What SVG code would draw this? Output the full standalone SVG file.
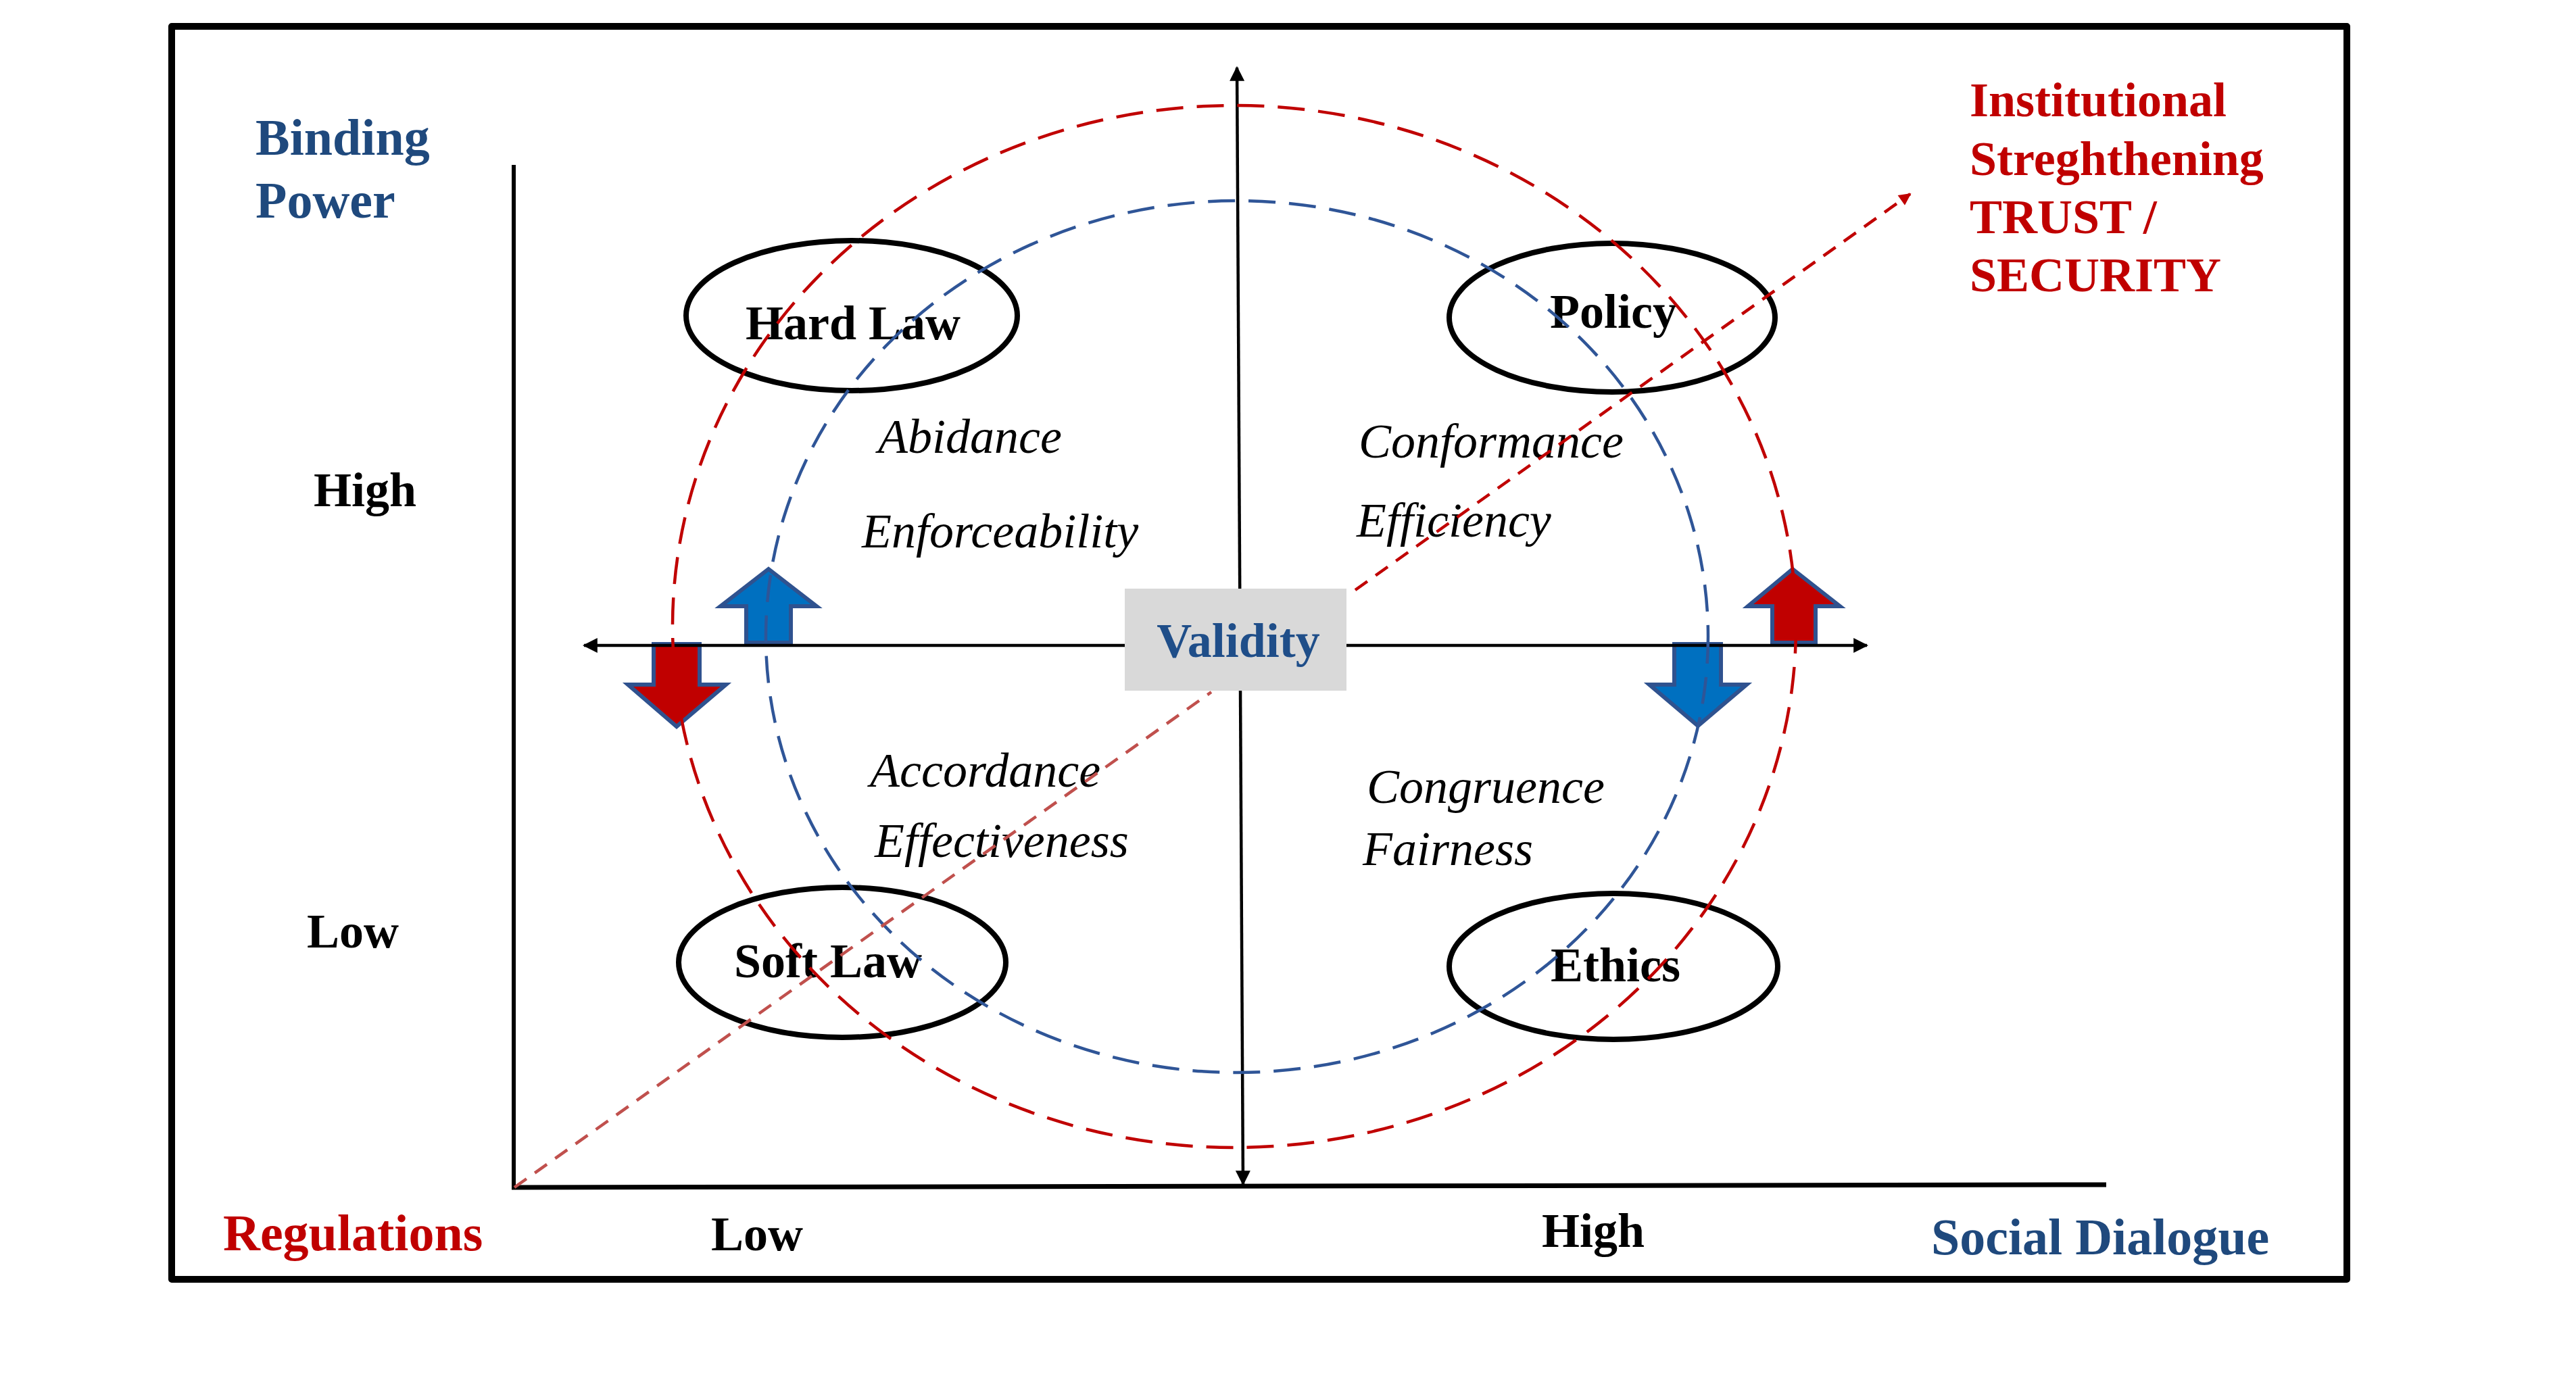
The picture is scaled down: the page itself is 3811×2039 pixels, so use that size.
<svg xmlns="http://www.w3.org/2000/svg" width="3811" height="2039" viewBox="0 0 3811 2039">
<style>
.t{font-family:"Liberation Serif","Times New Roman",serif;font-weight:bold;font-size:72px;fill:#000}
.ax{font-size:76px}
.blue{fill:#1F497D}
.red{fill:#C00000}
.it{font-family:"Liberation Serif","Times New Roman",serif;font-style:italic;font-size:72px;fill:#000}
.node{fill:#fff;stroke:#000;stroke-width:8}
.blk{stroke:#2F528F;stroke-width:6;stroke-linejoin:miter}
.axis{stroke:#000;stroke-width:4.5;fill:none}
.ring{fill:none;stroke-width:4.5;stroke-dasharray:40 20}
.diag{fill:none;stroke-width:4.5;stroke-dasharray:22 15}
</style>
<defs>
<marker id="ah" viewBox="0 0 10 10" refX="9" refY="5" markerWidth="22" markerHeight="22" markerUnits="userSpaceOnUse" orient="auto-start-reverse">
<path d="M0,0 L10,5 L0,10 z" fill="#000"/>
</marker>
<marker id="ahr" viewBox="0 0 10 10" refX="9" refY="5" markerWidth="20" markerHeight="18" markerUnits="userSpaceOnUse" orient="auto">
<path d="M0,0 L10,5 L0,10 z" fill="#C00000"/>
</marker>
</defs>
<rect x="0" y="0" width="3811" height="2039" fill="#fff"/>
<rect id="frame" x="254" y="39" width="3218" height="1854" fill="none" stroke="#000" stroke-width="10" stroke-linejoin="round"/>

<g id="labels">
<text class="t ax blue" x="378" y="229">Binding</text>
<text class="t ax blue" x="378" y="322">Power</text>
<text class="t" x="464" y="749">High</text>
<text class="t" x="454" y="1402">Low</text>
<text class="t ax red" x="330" y="1850">Regulations</text>
<text class="t" x="1052" y="1850">Low</text>
<text class="t" x="2281" y="1845">High</text>
<text class="t ax blue" x="2857" y="1856">Social Dialogue</text>
<text class="t red" x="2914" y="172">Institutional</text>
<text class="t red" x="2914" y="259">Streghthening</text>
<text class="t red" x="2914" y="345">TRUST /</text>
<text class="t red" x="2914" y="431">SECURITY</text>
<text class="it" x="1299" y="670">Abidance</text>
<text class="it" x="1275" y="810">Enforceability</text>
<text class="it" x="2010" y="677">Conformance</text>
<text class="it" x="2007" y="794">Efficiency</text>
<text class="it" x="1287" y="1164">Accordance</text>
<text class="it" x="1294" y="1268">Effectiveness</text>
<text class="it" x="2022" y="1188">Congruence</text>
<text class="it" x="2016" y="1280">Fairness</text>
</g>

<g id="node-hard-law">
<ellipse class="node" cx="1260" cy="467" rx="245" ry="111"/>
<text class="t" x="1262" y="502" text-anchor="middle" font-size="73">Hard Law</text>
</g>
<g id="node-policy">
<ellipse class="node" cx="2385" cy="470" rx="241" ry="110"/>
<text class="t" x="2387" y="485" text-anchor="middle">Policy</text>
</g>
<g id="node-soft-law">
<ellipse class="node" cx="1246" cy="1424" rx="242" ry="111" stroke-width="5"/>
<text class="t" x="1225" y="1446" text-anchor="middle">Soft Law</text>
</g>
<g id="node-ethics">
<ellipse class="node" cx="2387" cy="1430" rx="243" ry="108"/>
<text class="t" x="2390" y="1452" text-anchor="middle">Ethics</text>
</g>

<g id="block-arrows">
<path id="arrow-blue-up" class="blk" fill="#0070C0" d="M1137,842 L1208,897 L1170,897 L1170,951 L1104,951 L1104,897 L1066,897 Z"/>
<path id="arrow-red-down" class="blk" fill="#C00000" d="M967,953 L1035,953 L1035,1013 L1074,1013 L1001,1075 L929,1013 L967,1013 Z"/>
<path id="arrow-blue-down" class="blk" fill="#0070C0" d="M2477,953 L2546,953 L2546,1013 L2584,1013 L2512,1074 L2440,1013 L2477,1013 Z"/>
<path id="arrow-red-up" class="blk" fill="#C00000" d="M2652,842 L2722,897 L2686,897 L2686,951 L2622,951 L2622,897 L2586,897 Z"/>
</g>

<g id="connectors">
<line id="y-axis" x1="760" y1="244" x2="760" y2="1758" stroke="#000" stroke-width="6"/>
<line id="x-axis" x1="757" y1="1757" x2="3116" y2="1753" stroke="#000" stroke-width="7"/>
<line id="v-axis" class="axis" x1="1830" y1="100" x2="1839" y2="1752" marker-start="url(#ah)" marker-end="url(#ah)"/>
<line id="h-axis" class="axis" x1="864" y1="955" x2="2762" y2="955" marker-start="url(#ah)" marker-end="url(#ah)"/>
<ellipse id="ring-red" class="ring" cx="1826" cy="927" rx="831" ry="771" stroke="#C00000"/>
<ellipse id="ring-blue" class="ring" cx="1830" cy="942" rx="697" ry="645" stroke="#2F5597"/>
<line id="diag-low" class="diag" x1="761" y1="1757" x2="1792" y2="1024" stroke="#C0504D"/>
<line id="diag-high" class="diag" x1="2005" y1="873" x2="2826" y2="287" stroke="#C00000" marker-end="url(#ahr)"/>
</g>

<g id="node-validity">
<rect x="1664" y="871" width="328" height="151" fill="#D9D9D9"/>
<text class="t" x="1832" y="972" text-anchor="middle" fill="#1F4E89" style="fill:#1F4E89">Validity</text>
</g>
</svg>
